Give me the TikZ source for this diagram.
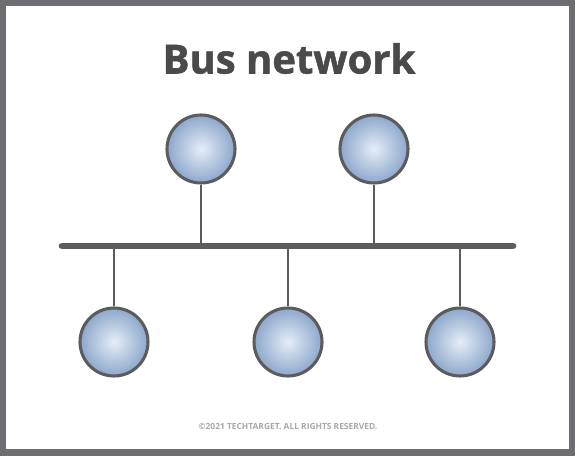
\documentclass[tikz,border=0pt]{standalone}
\usepackage{fontspec}
\setmainfont{Open Sans}
\newfontfamily\titlefont{Open Sans Bold}[FakeBold=1.3]
\definecolor{frame}{HTML}{6D6D72}
\definecolor{ink}{HTML}{4A4A4C}
\definecolor{edge}{HTML}{5C5C5E}
\definecolor{lite}{HTML}{E4EEF8}
\definecolor{dark}{HTML}{8DA7CB}
\definecolor{copy}{HTML}{A8A8A8}
\begin{document}
\begin{tikzpicture}[x=0.75pt,y=-0.75pt,
  hostnode/.style={circle,draw=edge,line width=2.3pt,minimum size=51pt,inner sep=0pt,inner color=lite,outer color=dark},
  busline/.style={draw=edge,line width=5pt,line cap=round},
  drop/.style={draw=edge,line width=2.2pt}]
\useasboundingbox (0,0) rectangle (575,456);
\fill[frame] (0,0) rectangle (575,456);
\fill[white] (6,6) rectangle (569,449);
\node[font=\fontsize{30}{32}\titlefont,text=ink,anchor=base,inner sep=0pt] (title) at (289,73.5) {Bus network};
\coordinate (busL) at (62,246);
\coordinate (busR) at (513,246);
\draw[busline] (busL) -- (busR);
\node[hostnode] (t1) at (201,149) {};
\node[hostnode] (t2) at (374,149) {};
\node[hostnode] (b1) at (114,342) {};
\node[hostnode] (b2) at (288,342) {};
\node[hostnode] (b3) at (460,342) {};
\foreach \n in {t1,t2,b1,b2,b3}{\draw[drop] (\n) -- (\n |- busL);}
\node[font=\fontsize{6.3}{7}\selectfont\bfseries,text=copy,anchor=base,inner sep=0pt] (copyr) at (288,429.5) {©2021 TECHTARGET. ALL RIGHTS RESERVED.};
\end{tikzpicture}
\end{document}
